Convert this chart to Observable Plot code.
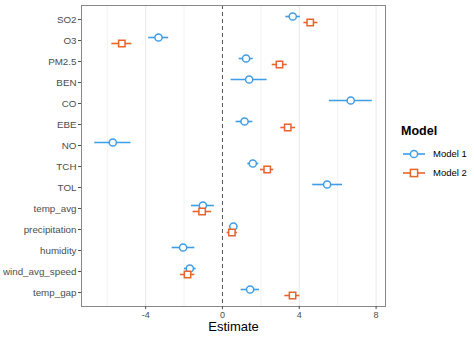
<!DOCTYPE html>
<html><head><meta charset="utf-8">
<script src="https://cdn.jsdelivr.net/npm/d3@7"></script>
<script src="https://cdn.jsdelivr.net/npm/@observablehq/plot@0.6"></script>
<style>
body{margin:0;background:#fff;font-family:"Liberation Sans",Arial,sans-serif;}
#wrap{position:relative;width:474px;height:338px;}
#legend{position:absolute;left:387px;top:124px;font-family:"Liberation Sans",Arial,sans-serif;}
#legend .t{font-weight:bold;font-size:12.5px;color:#000;margin-left:14px;margin-bottom:6px;}
#legend .r{display:flex;align-items:center;height:19px;font-size:9.5px;color:#000;}
</style>
</head><body>
<div id="wrap"><div id="chart"></div><div id="legend"></div></div>
<script>
const variables = ["SO2","O3","PM2.5","BEN","CO","EBE","NO","TCH","TOL","temp_avg","precipitation","humidity","wind_avg_speed","temp_gap"];
const models = ["Model 1","Model 2"];
const colors = ["#3d9de6","#e6652b"];
// Model 1
const m1Vars = ["SO2","O3","PM2.5","BEN","CO","EBE","NO","TCH","TOL","temp_avg","precipitation","humidity","wind_avg_speed","temp_gap"];
const m1Est  = [3.66,-3.33,1.23,1.39,6.68,1.15,-5.71,1.58,5.45,-1.02,0.57,-2.05,-1.70,1.44];
const m1Lo   = [3.30,-3.84,0.87,0.45,5.57,0.71,-6.65,1.32,4.70,-1.61,0.36,-2.62,-1.98,0.97];
const m1Hi   = [4.06,-2.80,1.60,2.33,7.80,1.58,-4.76,1.89,6.25,-0.42,0.76,-1.44,-1.37,1.93];
// Model 2
const m2Vars = ["SO2","O3","PM2.5","EBE","TCH","temp_avg","precipitation","wind_avg_speed","temp_gap"];
const m2Est  = [4.57,-5.24,2.97,3.40,2.33,-1.06,0.49,-1.82,3.65];
const m2Lo   = [4.24,-5.76,2.59,3.04,1.98,-1.53,0.24,-2.19,3.25];
const m2Hi   = [4.97,-4.72,3.37,3.80,2.67,-0.56,0.78,-1.44,4.03];
const xTicks = [-4,0,4,8];
const minorGrid = [-6,-2,2,6];

const d1 = m1Vars.map((v,i)=>({variable:v, est:m1Est[i], lo:m1Lo[i], hi:m1Hi[i], model:models[0]}));
const d2 = m2Vars.map((v,i)=>({variable:v, est:m2Est[i], lo:m2Lo[i], hi:m2Hi[i], model:models[1]}));

const font = "Liberation Sans, Arial, sans-serif";
const chart = Plot.plot({
  width: 474, height: 338,
  marginLeft: 81, marginTop: 5, marginRight: 89, marginBottom: 32,
  style: {fontFamily: font, background: "#fff"},
  x: {domain: [-7.34, 8.49]},
  y: {type: "point", domain: variables, padding: 0.6},
  color: {domain: models, range: colors},
  marks: [
    Plot.ruleX(minorGrid, {stroke: "#f2f2f2", strokeWidth: 1}),
    Plot.ruleX(xTicks.filter(t=>t!==0), {stroke: "#e8e8e8", strokeWidth: 1}),
    Plot.ruleX([0], {stroke: "#555", strokeDasharray: "4,3", strokeWidth: 1}),
    Plot.ruleY(d1, {y: "variable", x1: "lo", x2: "hi", stroke: colors[0], strokeWidth: 1.6, dy: -3}),
    Plot.ruleY(d2, {y: "variable", x1: "lo", x2: "hi", stroke: colors[1], strokeWidth: 1.6, dy: 3}),
    Plot.dot(d1, {x: "est", y: "variable", symbol: "circle", r: 3.6, fill: "#fff", stroke: colors[0], strokeWidth: 1.5, dy: -3}),
    Plot.dot(d2, {x: "est", y: "variable", symbol: "square", r: 3.6, fill: "#fff", stroke: colors[1], strokeWidth: 1.5, dy: 3}),
    Plot.frame({stroke: "#888", strokeWidth: 1}),
    Plot.axisY({tickSize: 3, tickPadding: 2, fontSize: 9.8, color: "#4d4d4d", label: null}),
    Plot.axisX({ticks: xTicks, tickSize: 3, tickPadding: 2, fontSize: 9, color: "#4d4d4d", tickFormat: d=>String(d), label: null}),
    Plot.text(["Estimate"], {frameAnchor: "bottom", dy: 24, fontSize: 13, fill: "#000"})
  ]
});
document.getElementById("chart").appendChild(chart);

// legend
const leg = d3.select("#legend");
leg.append("div").attr("class","t").text("Model");
models.forEach((m,i)=>{
  const r = leg.append("div").attr("class","r");
  const s = r.append("svg").attr("width",44).attr("height",18);
  s.append("line").attr("x1",16).attr("x2",38).attr("y1",9).attr("y2",9).attr("stroke",colors[i]).attr("stroke-width",1.6);
  if(i===0) s.append("circle").attr("cx",27).attr("cy",9).attr("r",3.6).attr("fill","#fff").attr("stroke",colors[i]).attr("stroke-width",1.5);
  else s.append("rect").attr("x",23.4).attr("y",5.4).attr("width",7.2).attr("height",7.2).attr("fill","#fff").attr("stroke",colors[i]).attr("stroke-width",1.5);
  r.append("span").style("margin-left","2px").text(m);
});
</script>
</body></html>
